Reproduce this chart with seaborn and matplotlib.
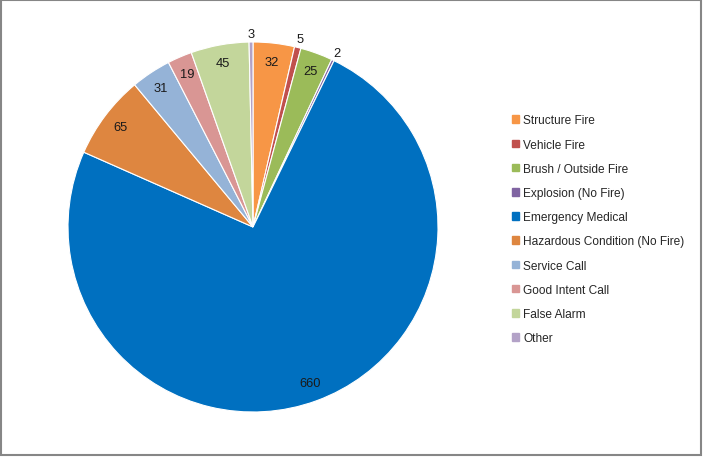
import matplotlib
matplotlib.use('Agg')
import matplotlib.pyplot as plt
import seaborn as sns
import numpy as np
from matplotlib.patches import Rectangle

# call types and counts
categories = ['Structure Fire', 'Vehicle Fire', 'Brush / Outside Fire', 'Explosion (No Fire)',
              'Emergency Medical', 'Hazardous Condition (No Fire)', 'Service Call',
              'Good Intent Call', 'False Alarm', 'Other']
counts = [32, 5, 25, 2, 660, 65, 31, 19, 45, 3]
colors = ['#F79646', '#C0504D', '#9BBB59', '#8064A2', '#0070C0',
          '#DE8640', '#95B3D7', '#D99694', '#C3D69B', '#B3A2C7']

sns.set_theme(style="white")
plt.rcParams['font.family'] = ['Liberation Sans', 'DejaVu Sans']
palette = sns.color_palette(colors)

W, H = 705, 460
fig = plt.figure(figsize=(W / 100, H / 100), dpi=100)
cx, cy, r = 253, 228, 185
ax = fig.add_axes([(cx - r) / W, (H - cy - r) / H, 2 * r / W, 2 * r / H])

wedges, _ = ax.pie(counts, colors=palette, startangle=90, counterclock=False,
                   wedgeprops={'edgecolor': 'white', 'linewidth': 0.8})
ax.set_xlim(-1, 1)
ax.set_ylim(-1, 1)
ax.set_aspect('equal')

# data labels: inside for big slices, outside for tiny ones
for w, v in zip(wedges, counts):
    ang = np.deg2rad((w.theta1 + w.theta2) / 2)
    d = 0.9 if v >= 10 else 1.045
    ax.text(d * np.cos(ang), d * np.sin(ang), str(v), ha='center', va='center',
            fontsize=9.3, color='#1a1a1a')

handles = [Rectangle((0, 0), 1, 1, color=c) for c in palette]
fig.legend(handles, categories, loc='upper left', bbox_to_anchor=(512 / W, 1 - 115.5 / H),
           bbox_transform=fig.transFigure, frameon=False, fontsize=8.6,
           handlelength=0.6, handleheight=0.6, handletextpad=0.35,
           labelspacing=1.02, borderpad=0, borderaxespad=0)

fig.patches.append(Rectangle((0.5 / W, 1 - 456 / H), 700 / W, 455.5 / H, fill=False,
                             edgecolor='#868686', linewidth=1.5,
                             transform=fig.transFigure, figure=fig))

fig.savefig('out.png', dpi=100)
